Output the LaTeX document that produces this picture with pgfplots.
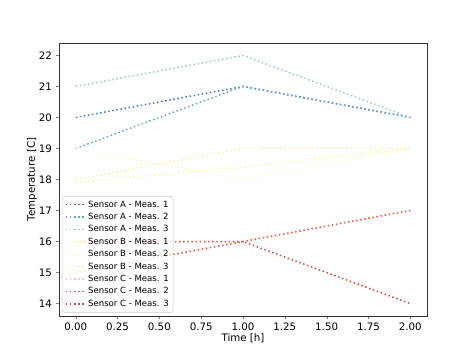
\documentclass[border=0pt]{standalone}
\usepackage{pgfplots}
\pgfplotsset{compat=1.18}
\usetikzlibrary{calc}
\usepackage{fontspec}
\setmainfont{DejaVu Sans}
\definecolor{aone}{HTML}{4575B4}
\definecolor{atwo}{HTML}{6A9FCB}
\definecolor{athree}{HTML}{9CC4E0}
\definecolor{bone}{HTML}{FFF8C8}
\definecolor{btwo}{HTML}{FFF3B0}
\definecolor{bthree}{HTML}{FCEDA0}
\definecolor{cone}{HTML}{F8C8B8}
\definecolor{ctwo}{HTML}{E0604E}
\definecolor{cthree}{HTML}{D04838}
\begin{document}
\begin{tikzpicture}
\fontsize{7.7pt}{9pt}\selectfont
\begin{axis}[
  scale only axis,
  width=276pt, height=204.75pt,
  xmin=-0.1, xmax=2.1, ymin=13.6, ymax=22.4,
  xtick={0,0.25,...,2},
  ytick={14,15,...,22},
  xticklabel style={/pgf/number format/.cd,fixed,fixed zerofill,precision=2},
  /pgf/number format/assume math mode=true,
  tick label style={font=\fontsize{7.7pt}{9pt}\selectfont},
  label style={font=\fontsize{7.7pt}{9pt}\selectfont},
  tick align=outside, tick pos=left,
  major tick length=2.6pt,
  axis line style={black!80},
  xlabel={Time [h]}, ylabel={Temperature [C]},
  xlabel style={yshift=3pt},
  ylabel style={yshift=-4pt},
  legend cell align=left,
  legend image code/.code={\path (0pt,0pt) -- (15pt,0pt); \draw[#1] (0pt,0pt) -- (11pt,0pt);},
  legend style={font=\fontsize{6.4pt}{7pt}\selectfont, draw=black!20, fill=white, fill opacity=0.8, text opacity=1, rounded corners=2pt, at={(0.008,0.012)}, anchor=south west, row sep=1.0pt, inner sep=2.2pt,
    nodes={inner sep=1.2pt}},
  every axis plot/.append style={line width=1.1pt, dotted},
]
\addplot[aone] coordinates {(0,20) (1,21) (2,20)};
\addlegendentry{Sensor A - Meas. 1}
\addplot[atwo] coordinates {(0,19) (1,21) (2,20)};
\addlegendentry{Sensor A - Meas. 2}
\addplot[athree] coordinates {(0,21) (1,22) (2,20)};
\addlegendentry{Sensor A - Meas. 3}
\addplot[bone] coordinates {(0,19) (1,18) (2,19)};
\addlegendentry{Sensor B - Meas. 1}
\addplot[btwo] coordinates {(0,17.9) (1,18.4) (2,19)};
\addlegendentry{Sensor B - Meas. 2}
\addplot[bthree] coordinates {(0,18) (1,19) (2,19)};
\addlegendentry{Sensor B - Meas. 3}
\addplot[cone] coordinates {(0,15) (1,16) (2,17)};
\addlegendentry{Sensor C - Meas. 1}
\addplot[ctwo] coordinates {(0,15) (1,16) (2,17)};
\addlegendentry{Sensor C - Meas. 2}
\addplot[cthree] coordinates {(0,16) (1,16) (2,14)};
\addlegendentry{Sensor C - Meas. 3}
\end{axis}
\path (current axis.south west) ++(-44.25pt,-29.25pt) rectangle ($(current axis.north east)+(35.25pt,32.25pt)$);
\end{tikzpicture}
\end{document}
